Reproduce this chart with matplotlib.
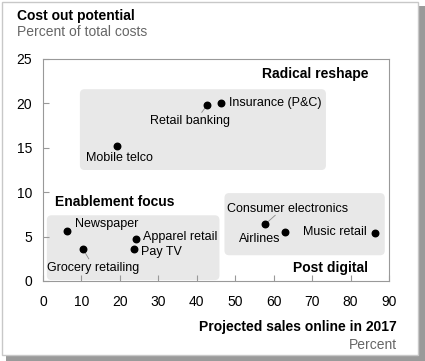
import matplotlib
matplotlib.use("Agg")
import matplotlib.pyplot as plt
from matplotlib.patches import FancyBboxPatch, Rectangle

plt.rcParams['font.family'] = ['Liberation Sans', 'DejaVu Sans']

# data
industries = ["Insurance (P&C)", "Retail banking", "Mobile telco", "Newspaper",
              "Grocery retailing", "Apparel retail", "Pay TV",
              "Consumer electronics", "Airlines", "Music retail"]
sales_online = [46.4, 42.7, 19.2, 6.2, 10.4, 24.1, 23.6, 57.8, 63.0, 86.3]
cost_out = [20.1, 19.8, 15.2, 5.6, 3.6, 4.7, 3.6, 6.4, 5.5, 5.4]

x_ticks = [0, 10, 20, 30, 40, 50, 60, 70, 80, 90]
y_ticks = [0, 5, 10, 15, 20, 25]

# label placement: (x, y, ha) and optional connector end
label_pos = {
    "Insurance (P&C)": (48.4, 20.1, "left"),
    "Retail banking": (38.3, 18.0, "center"),
    "Mobile telco": (19.9, 13.9, "center"),
    "Newspaper": (8.3, 6.4, "left"),
    "Grocery retailing": (13.1, 1.5, "center"),
    "Apparel retail": (25.9, 5.0, "left"),
    "Pay TV": (25.6, 3.3, "left"),
    "Consumer electronics": (63.7, 8.1, "center"),
    "Airlines": (56.3, 4.7, "center"),
    "Music retail": (84.2, 5.5, "right"),
}
connectors = {
    "Retail banking": (41.3, 19.0),
    "Grocery retailing": (11.9, 2.5),
    "Consumer electronics": (60.4, 7.4),
}

# shaded groups: (x0, y0, x1, y1), title, title pos
groups = [
    ((9.6, 12.5, 73.6, 21.6), "Radical reshape", (84.7, 23.3, "right")),
    ((1.0, 0.1, 45.9, 7.4), "Enablement focus", (3.1, 8.9, "left")),
    ((47.2, 2.9, 88.9, 9.9), "Post digital", (84.5, 1.5, "right")),
]

fig = plt.figure(figsize=(4.25, 3.61), dpi=100)

# outer frame with shadow
fig.patches.append(Rectangle((6 / 425, 0), 419 / 425, 1 - 6 / 361, transform=fig.transFigure,
                             facecolor="#9a9a9a", edgecolor="none", zorder=-3))
fig.patches.append(Rectangle((2 / 425, 6 / 361), 416 / 425, 353 / 361, transform=fig.transFigure,
                             facecolor="white", edgecolor="#c8c8c8", lw=1, zorder=-2))

ax = fig.add_axes([43 / 425, 1 - 281 / 361, 346 / 425, 222 / 361])
ax.set_xlim(0, 89.6)
ax.set_ylim(0, 25)

for (x0, y0, x1, y1), title, (tx, ty, ha) in groups:
    box = FancyBboxPatch((x0, y0), x1 - x0, y1 - y0,
                         boxstyle="round,pad=0,rounding_size=1.2",
                         mutation_aspect=0.45,
                         facecolor="#e8e8e8", edgecolor="none", zorder=0)
    ax.add_patch(box)
    ax.text(tx, ty, title, ha=ha, va="center", fontsize=10, fontweight="bold", color="black")

ax.scatter(sales_online, cost_out, s=22, color="black", zorder=3)

for name in industries:
    lx, ly, ha = label_pos[name]
    ax.text(lx, ly, name, ha=ha, va="center", fontsize=9, color="black", zorder=4)
    if name in connectors:
        i = industries.index(name)
        cx, cy = connectors[name]
        ax.plot([sales_online[i], cx], [cost_out[i], cy], color="#888888", lw=0.6, zorder=2)

ax.set_xticks(x_ticks)
ax.set_yticks(y_ticks)
ax.tick_params(direction="in", length=4, color="#999999", labelsize=10, width=0.8)
ax.tick_params(axis="x", pad=10)
ax.tick_params(axis="y", pad=8)
for s in ax.spines.values():
    s.set_color("#999999")
    s.set_linewidth(0.8)

fig.text(17 / 425, 1 - 16 / 361, "Cost out potential", fontsize=10, fontweight="bold", va="center")
fig.text(17 / 425, 1 - 32 / 361, "Percent of total costs", fontsize=10, color="#666666", va="center")
fig.text(397 / 425, 1 - 327 / 361, "Projected sales online in 2017", fontsize=10,
         fontweight="bold", ha="right", va="center")
fig.text(397 / 425, 1 - 345 / 361, "Percent", fontsize=10, color="#666666", ha="right", va="center")

fig.savefig("out.png", dpi=100)
